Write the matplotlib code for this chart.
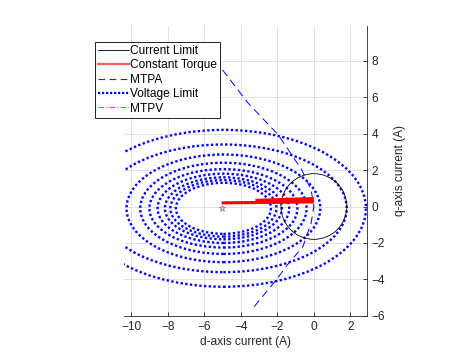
import numpy as np
import matplotlib
matplotlib.use("Agg")
import matplotlib.pyplot as plt
from matplotlib.patches import Ellipse, Circle

plt.rcParams['font.family'] = ['Liberation Sans', 'DejaVu Sans']

# voltage limit ellipses
ell_center = (-4.95, -0.1)
ell_half_d = [7.8, 6.75, 5.3, 4.55, 4.05, 3.6, 3.2, 2.9, 2.6]
ell_half_q = [4.3, 3.5, 2.95, 2.5, 2.15, 1.9, 1.7, 1.55, 1.4]

# current limit circle
i_max = 1.8

# MTPA trajectory
mtpa_id = [-5.0, -3.6, -1.95, -0.67, -0.15, 0.0, -0.15, -0.6, -1.5, -2.04, -3.31]
mtpa_iq = [7.49, 5.67, 3.93, 2.02, 0.9, 0.0, -0.9, -2.2, -3.26, -4.0, -5.54]

# constant torque segments
ct_id = [[-5.05, 0.0], [-3.2, 0.0]]
ct_iq = [[0.2, 0.25], [0.3, 0.4]]
ct_lw = [2.2, 3.2]

# operating point marker
op_id = [-5.05]
op_iq = [-0.08]

xticks = [-10, -8, -6, -4, -2, 0, 2]
yticks = [-6, -4, -2, 0, 2, 4, 6, 8]

fs = 8.6

fig = plt.figure(figsize=(4.74, 3.55), dpi=100)
ax = fig.add_axes([0.262, 0.110, 0.512, 0.817])

ax.add_patch(Circle((0, 0), i_max, fill=False, ec='black', lw=0.6, zorder=3))

for a, b in zip(ell_half_d, ell_half_q):
    ax.add_patch(Ellipse(ell_center, 2 * a, 2 * b, fill=False, ec='blue',
                         lw=1.7, ls=(0, (1, 1.0)), zorder=2))

ax.plot(mtpa_id, mtpa_iq, color='blue', lw=0.7, dashes=(8, 5), zorder=2)

for xs, ys, w in zip(ct_id, ct_iq, ct_lw):
    ax.plot(xs, ys, color='red', lw=w, solid_capstyle='butt', zorder=4)

ax.plot(op_id, op_iq, '*', color='gray', ms=5, mfc='none', mew=0.6, zorder=5)

# legend handles
h1, = ax.plot([], [], color='black', lw=0.6, label='Current Limit')
h2, = ax.plot([], [], color='#f06060', lw=1.6, label='Constant Torque')
h3, = ax.plot([], [], color='#2020e0', lw=0.8, dashes=(6, 4), label='MTPA')
h4, = ax.plot([], [], color='blue', lw=1.6, ls=(0, (1, 0.8)), label='Voltage Limit')
h5, = ax.plot([], [], color='#e040e0', lw=0.8, dashes=(5, 2, 1, 2), label='MTPV')

leg = fig.legend(handles=[h1, h2, h3, h4, h5], loc='upper left',
                 bbox_to_anchor=(95 / 474, 1 - 42 / 355), fontsize=fs,
                 handlelength=2.6, handletextpad=0.1, borderpad=0.25,
                 labelspacing=0.2, borderaxespad=0, fancybox=False,
                 framealpha=1, edgecolor='black')
leg.get_frame().set_linewidth(0.6)

ax.set_xlim(-10.38, 2.9)
ax.set_ylim(-6, 9.9)
ax.set_xticks(xticks)
ax.set_yticks(yticks)
ax.yaxis.tick_right()
ax.yaxis.set_label_position('right')
ax.tick_params(direction='in', labelsize=fs, colors='#262626', length=3, width=0.6)
for s in ['left', 'top']:
    ax.spines[s].set_visible(False)
for s in ['right', 'bottom']:
    ax.spines[s].set_color('#262626')
    ax.spines[s].set_linewidth(0.6)
ax.grid(True, color='#dcdcdc', lw=0.6)
ax.set_axisbelow(True)
ax.set_xlabel('d-axis current (A)', fontsize=fs, color='#262626', labelpad=2)
ax.set_ylabel('q-axis current (A)', fontsize=fs, color='#262626', labelpad=6)

fig.savefig('out.png', dpi=100)
